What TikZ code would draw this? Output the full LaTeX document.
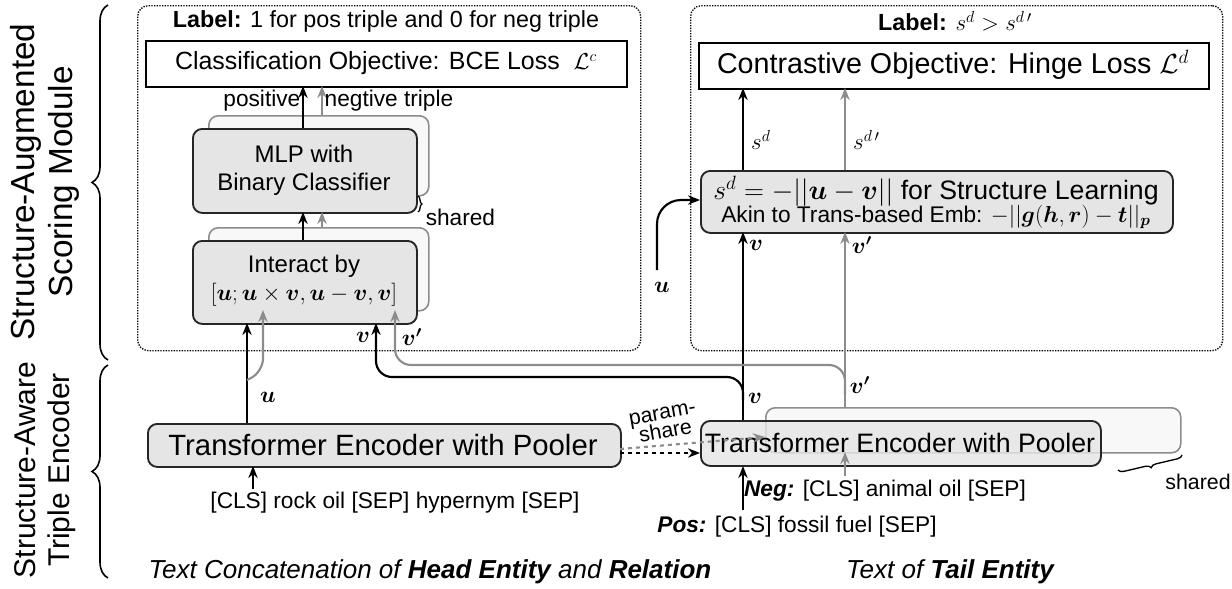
\documentclass[tikz,border=0pt]{standalone}
\usepackage{fontspec}
\setmainfont{Liberation Sans}
\usepackage{amsmath,bm}
\usetikzlibrary{arrows.meta,decorations.pathreplacing}
\begin{document}
\begin{tikzpicture}[x=0.75pt,y=-0.75pt,
 every node/.style={font=\fontsize{18}{21}\selectfont},
 blk/.style={draw=black!85,line width=1.4pt,fill=black!10,rounded corners=7pt},
 shd/.style={draw=black!45,line width=1.2pt,fill=black!4,fill opacity=0.7,rounded corners=7pt},
 ar/.style={-{Stealth[length=9pt,width=7pt]},line width=1.6pt},
 gar/.style={ar,draw=black!45},
 dbox/.style={draw,densely dotted,line width=1pt,rounded corners=8pt},
 brc/.style={decorate,decoration={brace,amplitude=#1},line width=1pt}]
\useasboundingbox (0,0) rectangle (1232,589);
% dashed boxes
\node[dbox,minimum width=377.25pt,minimum height=258.75pt,anchor=north west] (LB) at (137,5) {};
\node[dbox,minimum width=399pt,minimum height=258.75pt,anchor=north west] (RB) at (690,5) {};
\node[font=\fontsize{17.5}{20}\selectfont] (lbl1) at (386,21) {\textbf{Label:} 1 for pos triple and 0 for neg triple};
\node[font=\fontsize{17.5}{20}\selectfont] (lbl2) at (955,21) {\textbf{Label:} $s^d > s^{d\,\prime}$};
\node[draw,line width=1.4pt,minimum width=360.75pt,minimum height=34.5pt,anchor=north west] (cls) at (145,40) {};
\node[font=\fontsize{18.7}{21}\selectfont] at (386,63) {Classification Objective: BCE Loss~ $\mathcal{L}^c$};
\node[draw,line width=1.4pt,minimum width=382.5pt,minimum height=34.5pt,anchor=north west] (con) at (698,42) {};
\node[font=\fontsize{21.5}{24}\selectfont] at (953,65) {Contrastive Objective: Hinge Loss $\mathcal{L}^d$};
% MLP and interact
\node[shd,minimum width=165pt,minimum height=60pt,anchor=north west] (mlps) at (208,115) {};
\node[blk,minimum width=168pt,minimum height=63pt,anchor=north west] (mlp) at (192,128) {};
\node[align=center] at (304,170) {MLP with\\Binary Classifier};
\node[shd,minimum width=165pt,minimum height=62.25pt,anchor=north west] (ints) at (208,227) {};
\node[blk,minimum width=168pt,minimum height=62.25pt,anchor=north west] (int) at (192,240) {};
\node[align=center] at (304,281) {Interact by\\$[\bm{u};\bm{u}\times\bm{v},\bm{u}-\bm{v},\bm{v}]$};
\draw[ar] (303,128) -- (303,86);
\draw[gar] (322,115) -- (322,86);
\node[font=\fontsize{17}{20}\selectfont,anchor=east] (pos) at (305,101) {positive};
\node[font=\fontsize{17}{20}\selectfont,anchor=west] (neg) at (320,101) {negtive triple};
\draw[ar] (303,240) -- (303,212);
\draw[gar] (322,227) -- (322,212);
\draw[brc=3pt] (418,196) -- (418,212) node[font=\fontsize{17}{20}\selectfont,anchor=west,xshift=2pt,yshift=-4pt] (sh1) {shared};
% structure box
\node[blk,minimum width=354pt,minimum height=46.5pt,anchor=north west] (st) at (700,170) {};
\node[font=\fontsize{20}{23}\selectfont] at (936,191) {$s^d = -||\bm{u}-\bm{v}||$ for Structure Learning};
\node[font=\fontsize{17}{20}\selectfont] at (936,217) {Akin to Trans-based Emb: $-||\bm{g}(\bm{h},\bm{r})-\bm{t}||_{\bm{p}}$};
\draw[ar] (743,170) -- (743,88) node[midway,right,xshift=2pt,yshift=-8pt] {$s^d$};
\draw[gar] (845,170) -- (845,88) node[midway,right,xshift=2pt,yshift=-8pt] {$s^{d\,\prime}$};
\coordinate (ust) at (657,270);
\draw[ar,rounded corners=18pt] (ust) -- (657,200) -- (700,200);
\node at (662,287) {$\bm{u}$};
% encoders
\node[blk,minimum width=354.75pt,minimum height=32.25pt,anchor=north west] (enc1) at (147,423) {};
\node[font=\fontsize{22}{25}\selectfont] at (383,445) {Transformer Encoder with Pooler};
\node[shd,minimum width=311.25pt,minimum height=33.75pt,anchor=north west] (enc2s) at (765,407) {};
\node[blk,fill opacity=0.8,minimum width=300pt,minimum height=33.75pt,anchor=north west] (enc2) at (700,420) {};
\node[font=\fontsize{20}{23}\selectfont] at (900,443) {Transformer Encoder with Pooler};
\draw[ar,dashed] (620,453) -- (700,453);
\draw[gar,dashed] (620,449) -- (765,437);
\node[font=\fontsize{16}{19}\selectfont,align=center,rotate=10] (ps) at (664,423) {param-\\[-5pt]share};
\draw[brc=4pt] (1182,455) -- (1118,470);
\node[font=\fontsize{16}{19}\selectfont] (sh2) at (1198,482) {shared};
% inputs
\node[font=\fontsize{17}{20}\selectfont] (in1) at (395,503) {[CLS] rock oil [SEP] hypernym [SEP]};
\draw[ar] (253,489) -- (253,466);
\node[font=\fontsize{17}{20}\selectfont] (in3) at (885,491) {\textbf{\textit{Neg:}} [CLS] animal oil [SEP]};
\draw[gar] (845,476) -- (845,452);
\node[font=\fontsize{17}{20}\selectfont] (in2) at (797,527) {\textbf{\textit{Pos:}} [CLS] fossil fuel [SEP]};
\draw[ar] (743,510) -- (743,466);
% u arrows
\draw[ar] (247,423) -- (247,323);
\draw[gar,rounded corners=10pt] (247,380) -- (263,372) -- (263,310);
\node at (268,397) {$\bm{u}$};
% v arrows
\draw[ar] (743,420) -- (743,232);
\node at (756,245) {$\bm{v}$};
\draw[gar] (845,407) -- (845,232);
\node at (862,245) {$\bm{v'}$};
\draw[ar,rounded corners=12pt] (743,400) -- (743,377) -- (376,377) -- (376,323);
\draw[gar,rounded corners=12pt] (845,395) -- (845,365) -- (395,365) -- (395,310);
\node at (363,337) {$\bm{v}$};
\node at (412,337) {$\bm{v'}$};
\node at (755,398) {$\bm{v}$};
\node at (860,385) {$\bm{v'}$};
% bottom captions
\node[font=\fontsize{19.5}{22}\selectfont\itshape] (c1) at (430,572) {Text Concatenation of \textbf{Head Entity} and \textbf{Relation}};
\node[font=\fontsize{19.5}{22}\selectfont\itshape] (c2) at (950,572) {Text of \textbf{Tail Entity}};
% side braces
\draw[brc=12pt,line width=1.2pt] (108,360) -- (108,5);
\draw[brc=12pt,line width=1.2pt] (108,578) -- (108,365);
\node[font=\fontsize{25}{28}\selectfont,align=center,rotate=90] (s1) at (45,182) {Structure-Augmented\\Scoring Module};
\node[font=\fontsize{22.5}{25}\selectfont,align=center,rotate=90] (s2) at (45,470) {Structure-Aware\\Triple Encoder};
\end{tikzpicture}
\end{document}
